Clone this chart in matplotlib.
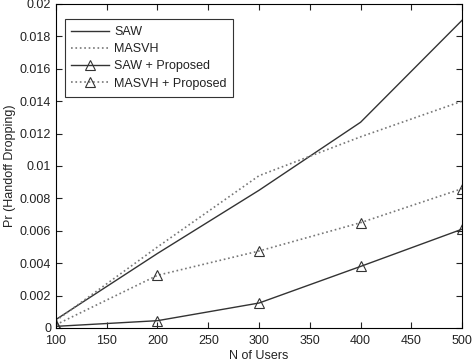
import matplotlib
matplotlib.use('Agg')
import matplotlib.pyplot as plt
import numpy as np

users = [100, 200, 300, 400, 500]
saw = [0.00052, 0.0046, 0.0085, 0.0127, 0.0190]
masvh = [0.00045, 0.0050, 0.0094, 0.0118, 0.0140]
saw_prop = [0.0001, 0.00045, 0.00154, 0.0038, 0.0061]
masvh_prop = [0.0002, 0.00325, 0.00475, 0.0065, 0.0086]

plt.rcParams['font.family'] = ['Liberation Sans', 'DejaVu Sans']
plt.rcParams['font.size'] = 9
plt.rcParams['text.color'] = '#222222'
plt.rcParams['axes.labelcolor'] = '#222222'
plt.rcParams['xtick.color'] = '#222222'
plt.rcParams['ytick.color'] = '#222222'

fig = plt.figure(figsize=(4.74, 3.62), dpi=100)
ax = fig.add_axes([0.118, 0.094, 0.857, 0.895])

ax.plot(users, saw, '-', color='#333333', lw=1.0, label='SAW')
ax.plot(users, masvh, ':', color='#777777', lw=1.2, label='MASVH')
ax.plot(users, saw_prop, '-', color='#333333', lw=1.0, marker='^', ms=7,
        mfc='none', mec='#333333', mew=0.8, label='SAW + Proposed')
ax.plot(users, masvh_prop, ':', color='#777777', lw=1.2, marker='^', ms=7,
        mfc='none', mec='#333333', mew=0.8, label='MASVH + Proposed')

ax.set_xlim(100, 500)
ax.set_ylim(0, 0.02)
ax.set_xticks(np.arange(100, 501, 50))
ax.set_yticks(np.arange(0, 0.0201, 0.002))
ax.set_yticklabels(['0'] + ['%g' % v for v in np.arange(0.002, 0.0201, 0.002)])
ax.tick_params(direction='in', top=True, right=True, length=4, width=0.8)
ax.tick_params(axis='x', pad=5)
for s in ax.spines.values():
    s.set_linewidth(0.8)

ax.set_xlabel('N of Users', labelpad=2)
ax.set_ylabel('Pr (Handoff Dropping)', labelpad=3)

leg = ax.legend(loc='upper left', bbox_to_anchor=(0.012, 0.965), fancybox=False,
                edgecolor='#333333', framealpha=1, handlelength=3.0,
                handletextpad=0.4, borderpad=0.55, labelspacing=0.42,
                borderaxespad=0.3, fontsize=9)
leg.get_frame().set_linewidth(0.8)

fig.savefig('out.png', dpi=100)
